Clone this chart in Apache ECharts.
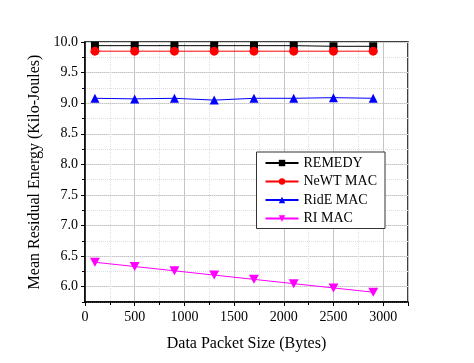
<!DOCTYPE html>
<html>
<head>
<meta charset="utf-8">
<script src="https://cdn.jsdelivr.net/npm/echarts@6/dist/echarts.min.js"></script>
<style>html,body{margin:0;padding:0;background:#fff}#c{width:474px;height:363px}</style>
</head>
<body>
<div id="c"></div>
<script>
const packetSizes = [100, 500, 900, 1300, 1700, 2100, 2500, 2900];
const remedy = [9.94, 9.94, 9.94, 9.94, 9.94, 9.94, 9.93, 9.93];
const newtMac = [9.85, 9.85, 9.85, 9.85, 9.85, 9.85, 9.85, 9.85];
const rideMac = [9.08, 9.07, 9.08, 9.05, 9.08, 9.08, 9.09, 9.08];
const riMac = [6.40, 6.33, 6.26, 6.19, 6.12, 6.05, 5.98, 5.91];
const yTickValues = [6.0, 6.5, 7.0, 7.5, 8.0, 8.5, 9.0, 9.5, 10.0];
const seriesNames = ['REMEDY', 'NeWT MAC', 'RidE MAC', 'RI MAC'];
const seriesColors = ['#000000', '#ff0000', '#0000ff', '#ff00ff'];
const seriesSymbols = ['rect', 'circle', 'triangle', 'path://M0,0 L10,0 L5,9 Z'];
const seriesValues = [remedy, newtMac, rideMac, riMac];

const font = "'Liberation Serif', 'Times New Roman', serif";
const chart = echarts.init(document.getElementById('c'), null, {renderer: 'canvas'});
chart.setOption({
  animation: false,
  backgroundColor: '#fff',
  textStyle: {fontFamily: font},
  grid: {left: 85, right: 66, top: 42, bottom: 61, show: true, borderColor: '#000', borderWidth: 1.5, containLabel: false},
  legend: {
    right: 89, top: 152,
    orient: 'vertical',
    backgroundColor: '#fff',
    borderColor: '#333', borderWidth: 1,
    padding: [4, 8, 3, 8],
    itemGap: 4.5,
    itemWidth: 33, itemHeight: 8,
    textStyle: {fontFamily: font, fontSize: 14, color: '#000'},
    data: seriesNames
  },
  xAxis: {
    type: 'value', min: 0, max: 3250, interval: 500,
    name: 'Data Packet Size (Bytes)', nameLocation: 'middle', nameGap: 34,
    nameTextStyle: {fontFamily: font, fontSize: 16, color: '#000'},
    axisLine: {lineStyle: {color: '#000', width: 1.5}},
    axisTick: {show: true, length: 4, lineStyle: {color: '#000'}},
    minorTick: {show: true, splitNumber: 2, length: 3, lineStyle: {color: '#000'}},
    axisLabel: {fontFamily: font, fontSize: 14, color: '#000', margin: 8,
      formatter: v => (v > 3000 ? '' : String(v))},
    splitLine: {show: true, lineStyle: {color: '#c4c4c4', width: 1}},
    minorSplitLine: {show: true, lineStyle: {color: '#dedede', type: 'dotted', width: 1}}
  },
  yAxis: [{
    type: 'value', min: 5.75, max: 10,
    name: 'Mean Residual Energy (Kilo-Joules)', nameLocation: 'middle', nameGap: 41,
    nameTextStyle: {fontFamily: font, fontSize: 16, color: '#000'},
    axisLine: {show: true, lineStyle: {color: '#000', width: 1.5}},
    axisTick: {show: true, length: 4, lineStyle: {color: '#000'}, customValues: yTickValues},
    axisLabel: {fontFamily: font, fontSize: 14, color: '#000', margin: 7, hideOverlap: false,
      customValues: yTickValues, formatter: v => v.toFixed(1)},
    splitLine: {show: true, lineStyle: {color: '#c4c4c4', width: 1}}
  }, {
    type: 'value', min: 5.75, max: 10, interval: 0.25, position: 'left',
    axisLine: {show: false}, axisLabel: {show: false},
    axisTick: {show: true, length: 3, lineStyle: {color: '#000'}},
    splitLine: {show: true, lineStyle: {color: '#dedede', type: 'dotted', width: 1}},
    z: 0
  }],
  series: seriesNames.map((n, i) => ({
    name: n, type: 'line',
    data: packetSizes.map((x, j) => [x, seriesValues[i][j]]),
    symbol: seriesSymbols[i], symbolSize: i === 3 ? [10, 9] : (i === 0 ? 8 : 9),
    showAllSymbol: true,
    itemStyle: {color: seriesColors[i]},
    lineStyle: {color: seriesColors[i], width: 1}
  }))
});
</script>
</body>
</html>
